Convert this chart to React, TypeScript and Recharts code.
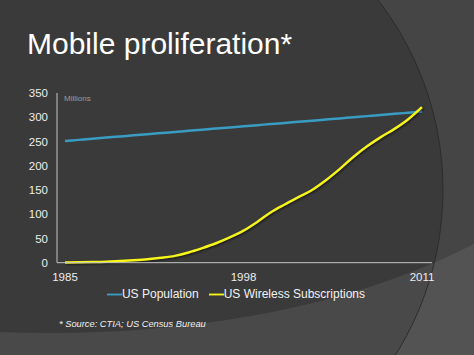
import { Legend, Line, LineChart, XAxis, YAxis } from 'recharts';

const years = [
  1985, 1986, 1987, 1988, 1989, 1990, 1991, 1992, 1993, 1994, 1995, 1996, 1997, 1998,
  1999, 2000, 2001, 2002, 2003, 2004, 2005, 2006, 2007, 2008, 2009, 2010, 2011,
];
const usPopulation = [
  251, 253.3, 255.6, 258, 260.3, 262.6, 265, 267.3, 269.6, 272, 274.3, 276.6, 279, 281.3,
  283.6, 286, 288.3, 290.6, 293, 295.3, 297.6, 300, 302.3, 304.6, 307, 309.3, 311.6,
];
const wirelessSubs = [
  0.3, 0.7, 1.2, 2, 3.5, 5, 7, 10, 14, 21, 30, 40, 52, 66,
  84, 104, 120, 135, 150, 170, 193, 218, 240, 259, 276, 296, 321,
];
const yTicks = [0, 50, 100, 150, 200, 250, 300, 350];
const xTicks = [1985, 1998, 2011];

const data = years.map((year, i) => ({
  year,
  pop: usPopulation[i],
  wireless: wirelessSubs[i],
}));

const FONT = '"Liberation Sans", Arial, sans-serif';

export default function App() {
  return (
    <div
      style={{
        position: 'absolute',
        left: 0,
        top: 0,
        width: 474,
        height: 355,
        overflow: 'hidden',
        background: '#454545',
        fontFamily: FONT,
      }}
    >
      {/* slide background */}
      <svg width={474} height={355} style={{ position: 'absolute', left: 0, top: 0 }}>
        <circle cx={133} cy={190} r={310} fill="#3a3a3a" />
        <path d="M0,332 C150,338 330,318 474,244 L474,355 L0,355 Z" fill="rgba(255,255,255,0.08)" />
        <circle cx={133} cy={190} r={310} fill="none" stroke="#2c2c2c" strokeWidth={1} />
        <text x={27} y={54} fontSize={30} fill="#ffffff">
          Mobile proliferation*
        </text>
        <text x={64} y={101} fontSize={8} fill="#9a9a9a">
          Millions
        </text>
        <text x={59} y={327} fontSize={9.3} fontStyle="italic" fill="#f0f0f0">
          * Source: CTIA; US Census Bureau
        </text>
      </svg>
      <div style={{ position: 'absolute', left: 0, top: 0 }}>
        <LineChart
          width={474}
          height={355}
          data={data}
          margin={{ top: 93, right: 42, left: 0, bottom: 53 }}
        >
          <XAxis
            dataKey="year"
            ticks={xTicks}
            interval={0}
            padding={{ left: 8, right: 10 }}
            axisLine={{ stroke: '#c4c4c4' }}
            tickLine={false}
            tickSize={6}
            tickMargin={4}
            height={24}
            tick={{ fill: '#eeeeee', fontSize: 11.5 }}
          />
          <YAxis
            domain={[0, 350]}
            ticks={yTicks}
            width={57}
            axisLine={{ stroke: '#c4c4c4' }}
            tickLine={false}
            tickSize={6}
            tickMargin={3}
            tick={{ fill: '#eeeeee', fontSize: 11.5 }}
          />
          <Legend
            iconType="plainline"
            iconSize={15}
            wrapperStyle={{ top: 287, left: 25, fontSize: 12 }}
            formatter={(value) => (
              <span style={{ color: '#f2f2f2', marginLeft: -4 }}>{value}</span>
            )}
          />
          <Line
            name="US Population"
            type="monotone"
            dataKey="pop"
            stroke="#3a9cc2"
            strokeWidth={2.5}
            dot={false}
            isAnimationActive={false}
          />
          <Line
            name="US Wireless Subscriptions"
            type="monotone"
            dataKey="wireless"
            stroke="#f6f61a"
            strokeWidth={2.5}
            dot={false}
            isAnimationActive={false}
            style={{ filter: 'drop-shadow(1px 1px 1px rgba(0,0,0,0.6))' }}
          />
        </LineChart>
      </div>
    </div>
  );
}
